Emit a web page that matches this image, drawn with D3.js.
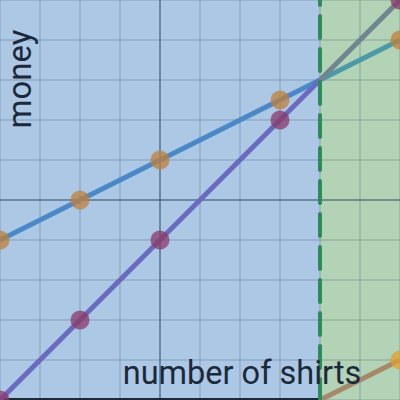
<!DOCTYPE html>
<html><head><meta charset="utf-8">
<script src="https://cdn.jsdelivr.net/npm/d3@7"></script>
<style>body{margin:0;background:#fff}svg{display:block}</style>
</head><body><svg id="chart" width="400" height="400"></svg>
<script>
// data
var gridX = [-4, -3, -2, -1, 0, 1, 2, 3, 4, 5, 6]
var gridY = [-5, -4, -3, -2, -1, 0, 1, 2, 3, 4, 5]
var splitX = 4
var line1X = [-4, 4, 6]          // y = 0.5x + 1
var line1Y = [-1, 3, 4]
var line2X = [-4, 4, 6]          // y = x - 1
var line2Y = [-5, 3, 5]
var line3X = [4, 6]
var line3Y = [-5, -4]
var dots1X = [-4, -2, 0, 3, 6], dots1Y = [-1, 0, 1, 2.5, 4]
var dots2X = [-4, -2, 0, 3, 6], dots2Y = [-5, -3, -1, 2, 5]
var dots3X = [6], dots3Y = [-4]

var svg = d3.select("#chart")
var x = d3.scaleLinear().domain([-4, 6]).range([0, 400])
var y = d3.scaleLinear().domain([-5, 5]).range([400, 0])

svg.append("rect").attr("x", 0).attr("y", 0).attr("width", x(splitX)).attr("height", 400).attr("fill", "#adc8e4")
svg.append("rect").attr("x", x(splitX)).attr("y", 0).attr("width", 400 - x(splitX)).attr("height", 400).attr("fill", "#b3d3b6")

svg.selectAll(".gx").data(gridX).enter().append("line")
    .attr("x1", function(d) { return x(d) }).attr("x2", function(d) { return x(d) })
    .attr("y1", 0).attr("y2", 400)
    .attr("stroke", "#1d3d5a").attr("stroke-opacity", function(d) { return d == 0 ? 0.6 : 0.2 })
    .attr("stroke-width", 1.5)
svg.selectAll(".gy").data(gridY).enter().append("line")
    .attr("y1", function(d) { return y(d) }).attr("y2", function(d) { return y(d) })
    .attr("x1", 0).attr("x2", 400)
    .attr("stroke", "#1d3d5a").attr("stroke-opacity", function(d) { return d == 0 ? 0.6 : 0.2 })
    .attr("stroke-width", 1.5)

// bottom edge
svg.append("line").attr("x1", 0).attr("x2", x(splitX)).attr("y1", 399).attr("y2", 399)
    .attr("stroke", "#1a2a3a").attr("stroke-width", 2)

function seg(xs, ys, i, col) {
  svg.append("line")
    .attr("x1", x(xs[i])).attr("y1", y(ys[i]))
    .attr("x2", x(xs[i + 1])).attr("y2", y(ys[i + 1]))
    .attr("stroke", col).attr("stroke-width", 5)
}
seg(line1X, line1Y, 0, "#4a88c8")
seg(line1X, line1Y, 1, "#4a9aa8")
seg(line2X, line2Y, 0, "#6a6ac0")
seg(line2X, line2Y, 1, "#6f8590")
seg(line3X, line3Y, 0, "#a6886a")

svg.append("line").attr("x1", x(splitX)).attr("x2", x(splitX)).attr("y1", 0).attr("y2", 400)
    .attr("stroke", "#2e8a5a").attr("stroke-width", 4)
    .attr("stroke-dasharray", "22,11").attr("stroke-dashoffset", 17)
    .attr("stroke-linecap", "round")

function dots(xs, ys, col) {
  svg.selectAll(null).data(xs).enter().append("circle")
    .attr("cx", function(d) { return x(d) })
    .attr("cy", function(d, i) { return y(ys[i]) })
    .attr("r", 9.5).attr("fill", col).attr("fill-opacity", 0.75)
}
dots(dots1X, dots1Y, "#c0803a")
dots(dots2X, dots2Y, "#8a3a6a")
dots(dots3X, dots3Y, "#e0a030")

svg.append("text").attr("transform", "translate(31,79) rotate(-90)")
    .attr("text-anchor", "middle").attr("font-family", "Roboto, sans-serif")
    .attr("font-size", 33).attr("fill", "#1a2a3a").text("money")
svg.append("text").attr("x", 242).attr("y", 384)
    .attr("text-anchor", "middle").attr("font-family", "Roboto, sans-serif")
    .attr("font-size", 32.5).attr("fill", "#1a2a3a").text("number of shirts")
</script></body></html>
